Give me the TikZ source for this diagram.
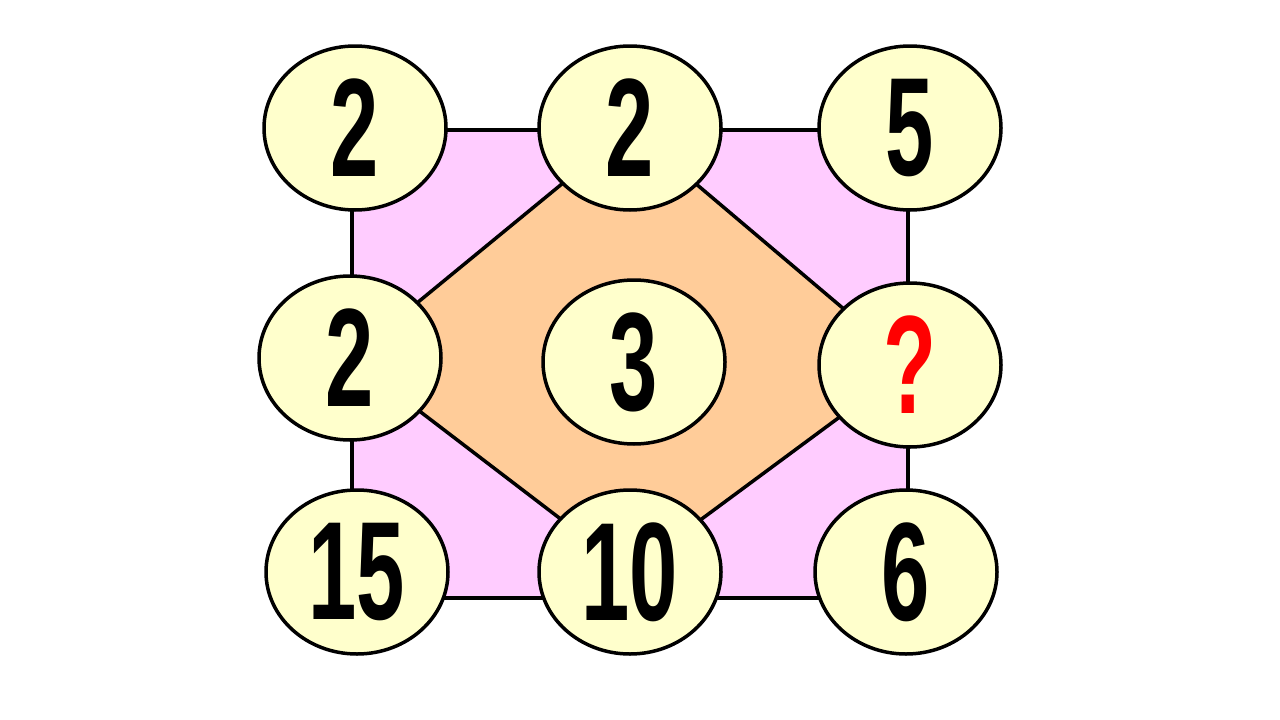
\documentclass[tikz,border=0pt]{standalone}
\usepackage{fontspec}
\setmainfont{Liberation Sans}
\usetikzlibrary{shapes.geometric}
\definecolor{cell}{HTML}{FFFFCC}
\definecolor{pinkf}{HTML}{FFCCFF}
\definecolor{orangef}{HTML}{FFCC99}
\tikzset{x=1pt,y=-1pt,
 cellnode/.style={ellipse,draw=black,line width=3.5pt,fill=cell,minimum width=182pt,minimum height=164pt,inner sep=0pt,font=\fontsize{140}{140}\bfseries},
 edge/.style={line width=3.5pt}}
\newcommand{\num}[1]{\scalebox{0.62}[1]{#1}}
\begin{document}
\begin{tikzpicture}
\useasboundingbox (0,0) rectangle (1280,720);
\coordinate (tl) at (352,130); \coordinate (br) at (908,598);
\fill[pinkf] (tl) rectangle (br);
\draw[edge] (tl) rectangle (br);
\coordinate (t) at (630,128); \coordinate (l) at (350,358);
\coordinate (b) at (630,572); \coordinate (r) at (910,365);
\filldraw[fill=orangef,edge] (t) -- (l) -- (b) -- (r) -- cycle;
\node[cellnode] (a1) at (355,128) {\num{2}};
\node[cellnode] (a2) at (630,128) {\num{2}};
\node[cellnode] (a3) at (910,128) {\num{5}};
\node[cellnode] (b1) at (350,358) {\num{2}};
\node[cellnode] (b2) at (634,362) {\num{3}};
\node[cellnode] (b3) at (910,365) {\textcolor{red}{\num{?}}};
\node[cellnode] (c1) at (357,572) {\num{15}};
\node[cellnode] (c2) at (630,572) {\num{10}};
\node[cellnode] (c3) at (906,572) {\num{6}};
\end{tikzpicture}
\end{document}
